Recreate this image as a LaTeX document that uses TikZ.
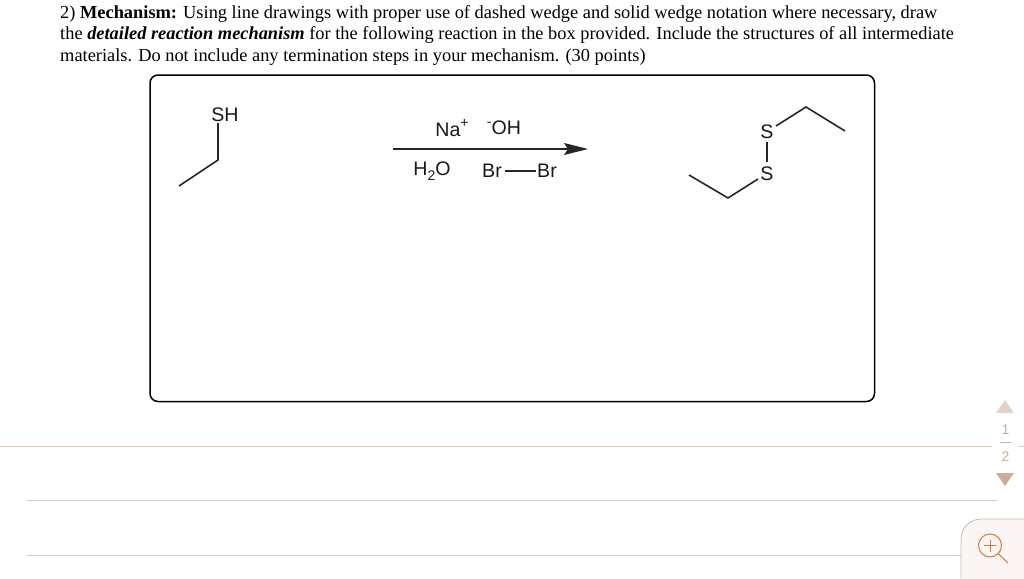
\documentclass[tikz,border=0pt]{standalone}
\usepackage{fontspec}
\setmainfont{Liberation Serif}
\newfontfamily\hel{Liberation Sans}
\usetikzlibrary{arrows.meta,calc}
\newcommand{\supr}[1]{\raisebox{0.42em}{\fontsize{14}{14}\selectfont #1}}
\newcommand{\subr}[1]{\raisebox{-0.25em}{\fontsize{14}{14}\selectfont #1}}
\tikzset{
 txt/.style={anchor=base west,inner sep=0pt,font=\fontsize{18.38}{20}\selectfont},
 chem/.style={inner sep=0pt,font=\hel\fontsize{19.6}{20}\selectfont,text=black!90},
 bond/.style={line width=1.6pt,black!85,line join=miter},
 rule/.style={line width=1pt,draw=rulec},
}
\definecolor{rulec}{HTML}{E3CDBA}
\definecolor{pagerc}{HTML}{E2D3C8}
\definecolor{pagedk}{HTML}{C9AE99}
\definecolor{zoomc}{HTML}{D9763C}
\definecolor{zoomfill}{HTML}{FBF6F3}
\begin{document}
\begin{tikzpicture}[x=1pt,y=-1pt]
\useasboundingbox (0,0) rectangle (1024,578);
\node[txt] (l1) at (60,18.5) {2) \textbf{Mechanism:} Using line drawings with proper use of dashed wedge and solid wedge notation where necessary, draw};
\node[txt] (l2) at (60,40) {the \textbf{\textit{detailed reaction mechanism}} for the following reaction in the box provided. Include the structures of all intermediate};
\node[txt] (l3) at (60,61.5) {materials. Do not include any termination steps in your mechanism. (30 points)};
\draw[line width=1.5pt,rounded corners=8pt] (150,75) rectangle (874.5,401.5);
% thiol
\node[chem] (sh) at (225,115) {SH};
\coordinate (a1) at (218,160);
\coordinate (a2) at (179,186);
\draw[bond] (sh.south -| a1) ++(0,1) -- (a1) -- (a2);
% reagents
\node[chem] (na) at (452,128) {Na\supr{+}};
\node[chem] (oh) at (504,128) {\supr{-}OH};
\node[chem] (h2o) at (432,171) {H\subr{2}O};
\node[chem] (br1) at (492,171) {Br};
\node[chem] (br2) at (547,171) {Br};
\draw[bond,line width=1.3pt] ($(br1)+(13,0)$) -- ($(br2)+(-11,0)$);
\coordinate (arS) at (393,149);
\coordinate (arE) at (588,149);
\draw[line width=1.5pt,black!85,-{Stealth[length=24pt,width=12pt,inset=4pt]}] (arS) -- (arE);
% disulfide
\node[chem] (s1) at (767,131.5) {S};
\node[chem] (s2) at (767,174) {S};
\coordinate (c1) at (806,107);
\coordinate (c2) at (845,131);
\coordinate (c3) at (728,198);
\coordinate (c4) at (689,175);
\draw[bond] ($(s1)+(9,-5.5)$) -- (c1) -- (c2);
\draw[bond,line width=1.3pt] ($(s1)+(0,10.5)$) -- ($(s2)+(0,-12)$);
\draw[bond] ($(s2)+(-9,5)$) -- (c3) -- (c4);
% rules
\draw[rule] (0,446) -- (992,446);
\draw[rule] (1018,446) -- (1024,446);
\draw[rule] (27,500.8) -- (997,500.8);
\draw[rule] (27,555.6) -- (961,555.6);
% pager
\fill[pagerc] (1005,400) -- (996,413) -- (1014,413) -- cycle;
\node[inner sep=0pt,font=\hel\fontsize{14}{14}\selectfont,text=pagedk] (p1) at (1005.5,430) {1};
\draw[pagedk,line width=0.8pt] (1000,442.5) -- (1011,442.5);
\node[inner sep=0pt,font=\hel\fontsize{14}{14}\selectfont,text=pagedk] (p2) at (1005.5,457) {2};
\fill[pagedk] (1005,486) -- (996,473) -- (1014,473) -- cycle;
% zoom button
\fill[zoomfill,rounded corners=20pt] (961,590) -- (961,519) -- (1040,519) -- (1040,590) -- cycle;
\draw[black!25,line width=0.8pt,rounded corners=20pt] (961,590) -- (961,519) -- (1040,519);
\draw[zoomc,line width=1pt] (990,545.5) circle (11.5);
\draw[zoomc,line width=1pt] (984,545.5) -- (996,545.5) (990,539.5) -- (990,551.5);
\draw[zoomc,line width=1pt] (998,553.5) -- (1008,563);
\end{tikzpicture}
\end{document}
